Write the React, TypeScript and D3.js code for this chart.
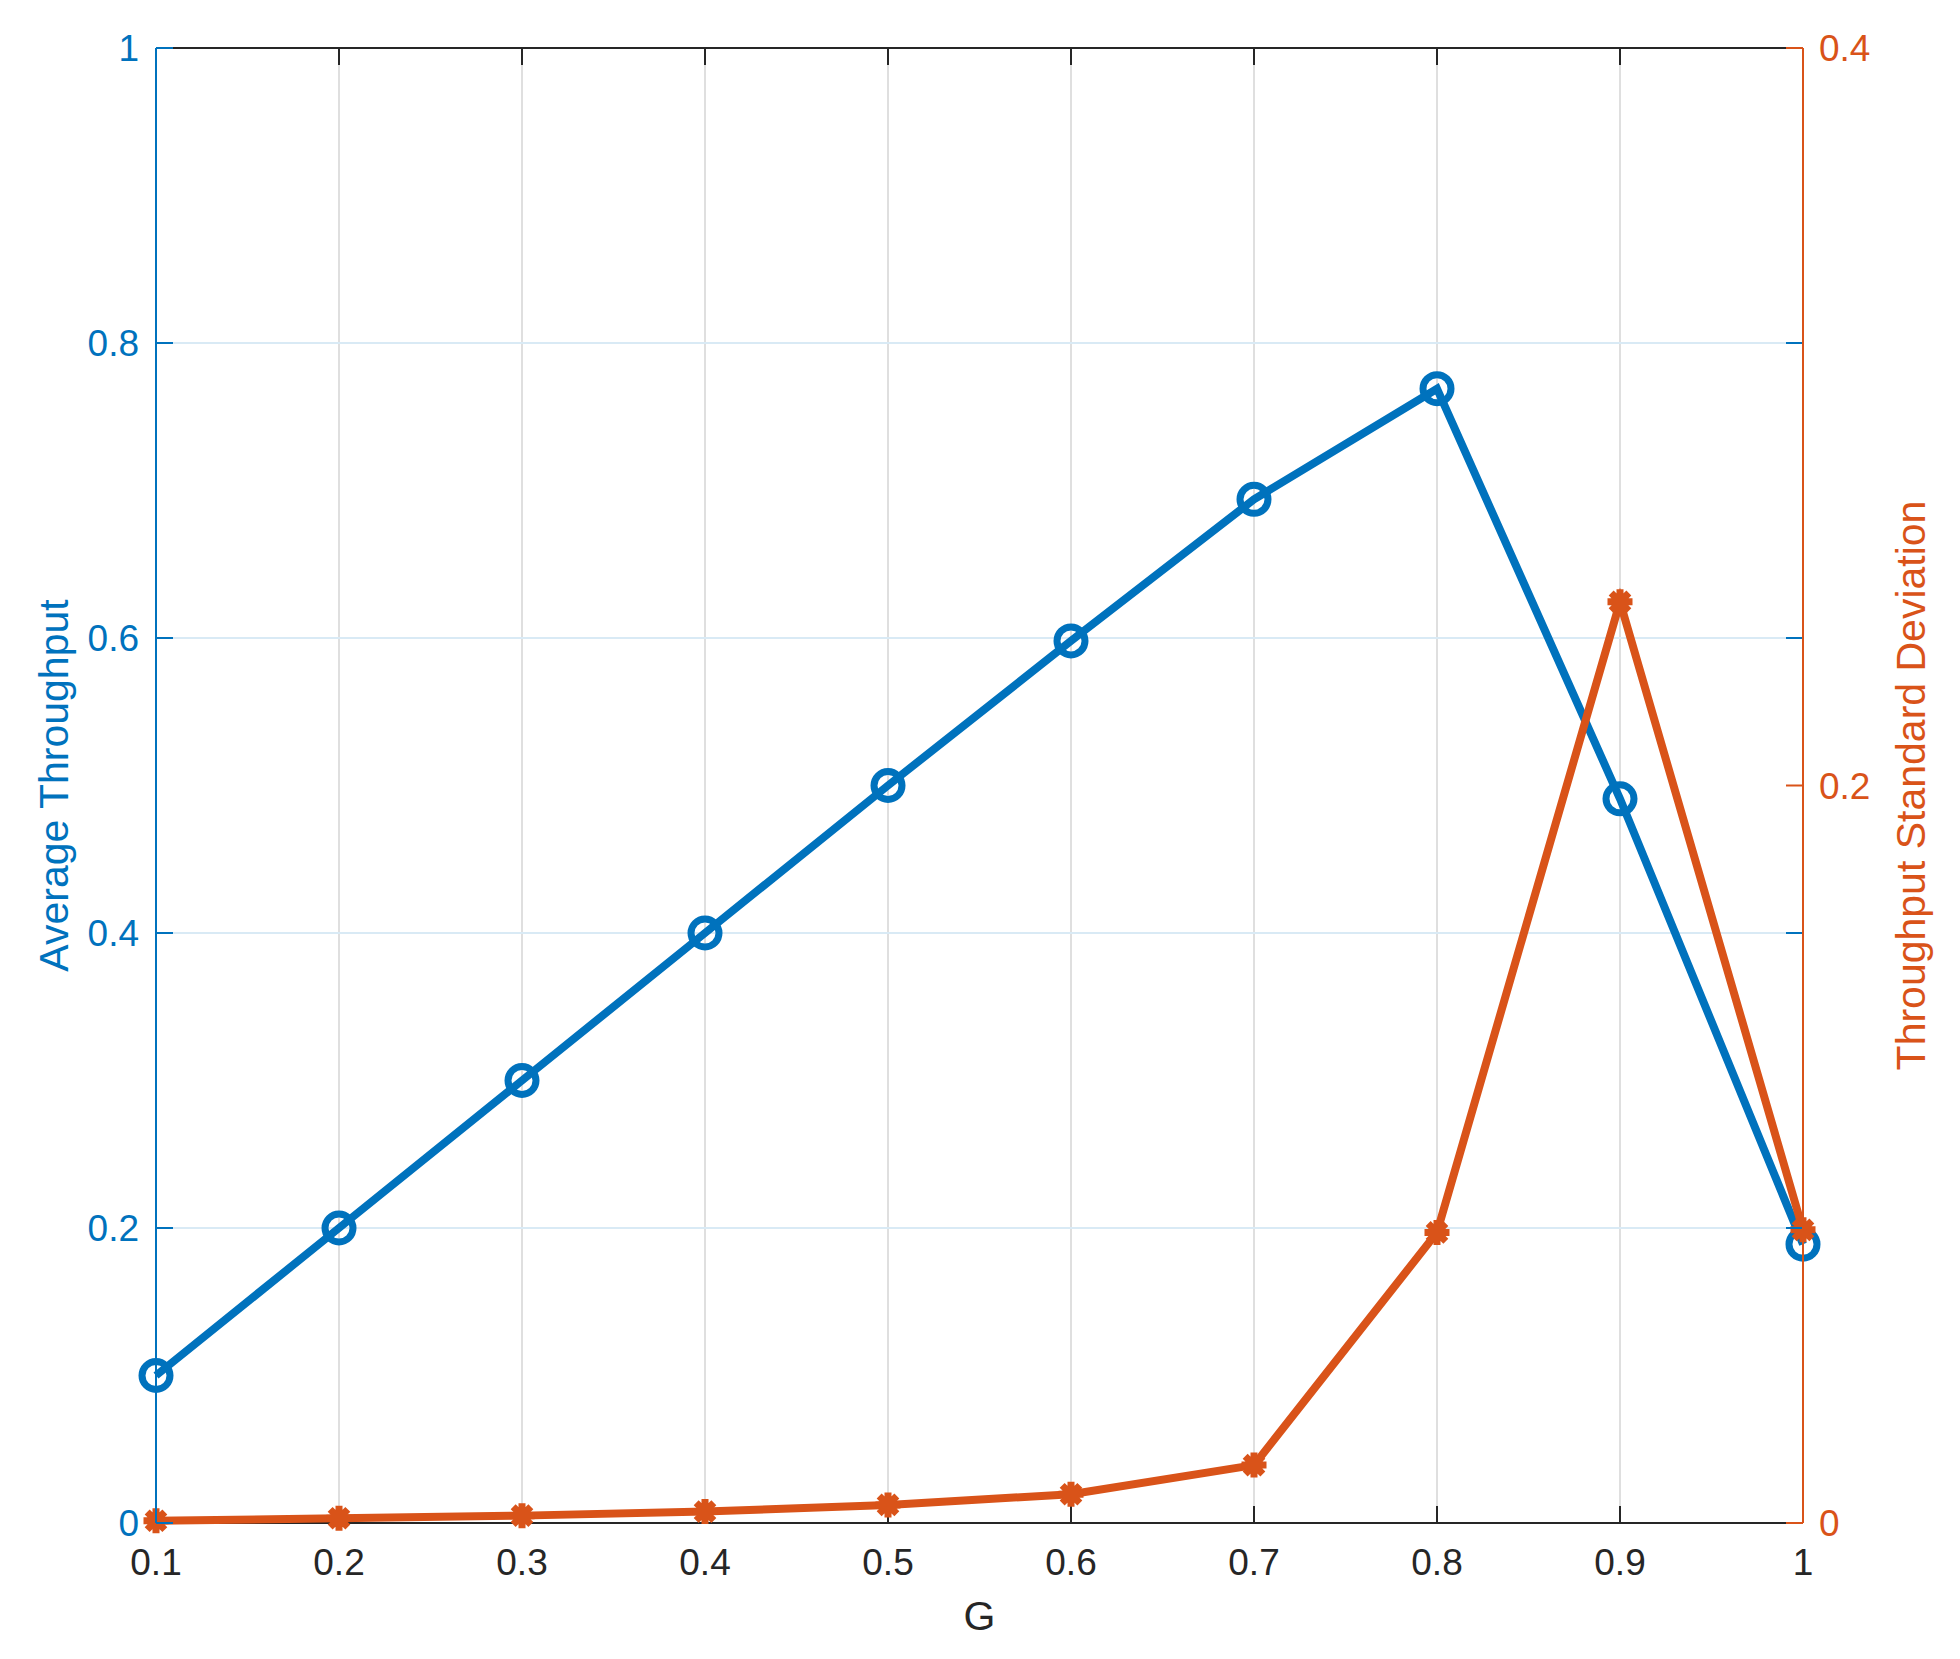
import React from "react";
import * as d3 from "d3";

const G_VALUES = [0.1, 0.2, 0.3, 0.4, 0.5, 0.6, 0.7, 0.8, 0.9, 1.0];
const AVG_THROUGHPUT = [0.1, 0.2, 0.3, 0.4, 0.5, 0.598, 0.694, 0.769, 0.491, 0.189];
const THROUGHPUT_STD = [0.0006, 0.0013, 0.002, 0.0031, 0.0049, 0.0078, 0.0157, 0.0788, 0.2498, 0.0795];
const X_TICKS = [0.1, 0.2, 0.3, 0.4, 0.5, 0.6, 0.7, 0.8, 0.9, 1];
const LEFT_TICKS = [0, 0.2, 0.4, 0.6, 0.8, 1];
const RIGHT_TICKS = [0, 0.2, 0.4];

const W = 1960;
const H = 1659;
const M = { left: 156, right: 1803, top: 48, bottom: 1523 };
const BLUE = "#0072BD";
const ORANGE = "#D95319";
const DARK = "#262626";
const FONT = "'Liberation Sans', Arial, Helvetica, sans-serif";

const fmt = (v: number) => (v === 0 ? "0" : v === 1 ? "1" : String(v));

export default function App() {
  const x = d3.scaleLinear().domain([0.1, 1]).range([M.left, M.right]);
  const yL = d3.scaleLinear().domain([0, 1]).range([M.bottom, M.top]);
  const yR = d3.scaleLinear().domain([0, 0.4]).range([M.bottom, M.top]);

  const lineL = d3
    .line<number>()
    .x((_, i) => x(G_VALUES[i]))
    .y((d) => yL(d));
  const lineR = d3
    .line<number>()
    .x((_, i) => x(G_VALUES[i]))
    .y((d) => yR(d));

  const tickLen = 17;
  const starR = 12.5;

  return (
    <svg
      width={W}
      height={H}
      style={{ position: "absolute", left: 0, top: 0, background: "#fff" }}
      fontFamily={FONT}
    >
      <rect x={0} y={0} width={W} height={H} fill="#fff" />
      {/* vertical grid */}
      {X_TICKS.map((t) => (
        <line key={"gx" + t} x1={x(t)} x2={x(t)} y1={M.top} y2={M.bottom} stroke="#dfdfdf" strokeWidth={2} />
      ))}
      {/* horizontal grid (left axis) */}
      {LEFT_TICKS.map((t) => (
        <line key={"gy" + t} x1={M.left} x2={M.right} y1={yL(t)} y2={yL(t)} stroke="#d9eaf5" strokeWidth={2} />
      ))}

      {/* x axes lines top & bottom */}
      <line x1={M.left} x2={M.right} y1={M.bottom} y2={M.bottom} stroke={DARK} strokeWidth={2} />
      <line x1={M.left} x2={M.right} y1={M.top} y2={M.top} stroke={DARK} strokeWidth={2} />
      {X_TICKS.map((t) => (
        <g key={"xt" + t}>
          <line x1={x(t)} x2={x(t)} y1={M.bottom} y2={M.bottom - tickLen} stroke={DARK} strokeWidth={2} />
          <line x1={x(t)} x2={x(t)} y1={M.top} y2={M.top + tickLen} stroke={DARK} strokeWidth={2} />
          <text x={x(t)} y={1575} fontSize={37} fill={DARK} textAnchor="middle">
            {fmt(t)}
          </text>
        </g>
      ))}

      {/* blue series */}
      <path d={lineL(AVG_THROUGHPUT) || ""} fill="none" stroke={BLUE} strokeWidth={8} strokeLinejoin="miter" />
      {AVG_THROUGHPUT.map((v, i) => (
        <circle key={"c" + i} cx={x(G_VALUES[i])} cy={yL(v)} r={14} fill="none" stroke={BLUE} strokeWidth={7} />
      ))}

      {/* orange series */}
      <path d={lineR(THROUGHPUT_STD) || ""} fill="none" stroke={ORANGE} strokeWidth={8} strokeLinejoin="miter" />
      {THROUGHPUT_STD.map((v, i) => {
        const cx = x(G_VALUES[i]);
        const cy = yR(v);
        const d = [0, 45, 90, 135]
          .map((a) => {
            const r = (a * Math.PI) / 180;
            const dx = Math.cos(r) * starR;
            const dy = Math.sin(r) * starR;
            return `M${cx - dx},${cy - dy}L${cx + dx},${cy + dy}`;
          })
          .join("");
        return <path key={"s" + i} d={d} stroke={ORANGE} strokeWidth={7} fill="none" />;
      })}

      {/* left axis */}
      <line x1={M.left} x2={M.left} y1={M.top} y2={M.bottom} stroke={BLUE} strokeWidth={2} />
      {LEFT_TICKS.map((t) => (
        <g key={"yl" + t}>
          <line x1={M.left} x2={M.left + tickLen} y1={yL(t)} y2={yL(t)} stroke={BLUE} strokeWidth={2} />
          <line x1={M.right} x2={M.right - tickLen} y1={yL(t)} y2={yL(t)} stroke={BLUE} strokeWidth={2} />
          <text x={139} y={yL(t) + 13} fontSize={37} fill={BLUE} textAnchor="end">
            {fmt(t)}
          </text>
        </g>
      ))}

      {/* right axis */}
      <line x1={M.right} x2={M.right} y1={M.top} y2={M.bottom} stroke={ORANGE} strokeWidth={2} />
      {RIGHT_TICKS.map((t) => (
        <g key={"yr" + t}>
          <line x1={M.right} x2={M.right - tickLen} y1={yR(t)} y2={yR(t)} stroke={ORANGE} strokeWidth={2} />
          <text x={1819} y={yR(t) + 13} fontSize={37} fill={ORANGE} textAnchor="start">
            {fmt(t)}
          </text>
        </g>
      ))}

      {/* axis labels */}
      <text x={(M.left + M.right) / 2} y={1630} fontSize={41} fill={DARK} textAnchor="middle">
        G
      </text>
      <text
        transform={`translate(68, ${(M.top + M.bottom) / 2}) rotate(-90)`}
        fontSize={41}
        fill={BLUE}
        textAnchor="middle"
      >
        Average Throughput
      </text>
      <text
        transform={`translate(1925, ${(M.top + M.bottom) / 2}) rotate(-90)`}
        fontSize={41}
        fill={ORANGE}
        textAnchor="middle"
      >
        Throughput Standard Deviation
      </text>
    </svg>
  );
}
